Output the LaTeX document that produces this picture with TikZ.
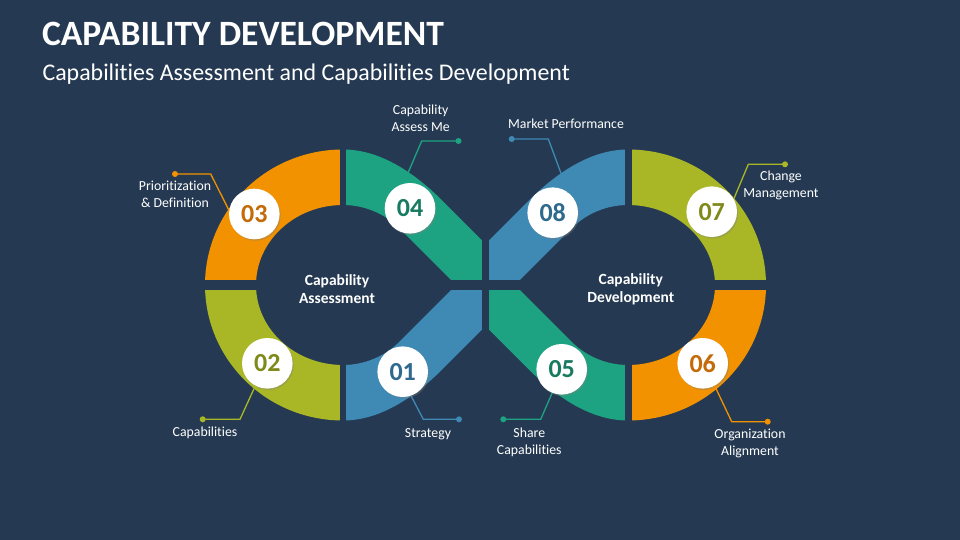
\documentclass[tikz,border=0pt]{standalone}
\usepackage{fontspec}
\setmainfont[Ligatures=NoCommon]{Carlito}
\usetikzlibrary{shadows}

\definecolor{bgnavy}{RGB}{37,58,82}
\definecolor{segorange}{RGB}{243,146,0}
\definecolor{segteal}{RGB}{30,163,130}
\definecolor{segblue}{RGB}{63,137,181}
\definecolor{segolive}{RGB}{169,183,38}
\definecolor{numorange}{RGB}{196,106,8}
\definecolor{numteal}{RGB}{23,122,97}
\definecolor{numblue}{RGB}{47,106,142}
\definecolor{numolive}{RGB}{127,138,26}

% one quarter of a ring and one quarter of the crossing band
\newcommand{\ringquarter}{(-138,0) arc[start angle=180,end angle=90,x radius=138,y radius=135.5] -- (0,80) arc[start angle=90,end angle=180,x radius=87,y radius=80] -- cycle}
\newcommand{\bandquarter}{(0,135.5) .. controls (40,135.5) and (75,108.7) .. (100,83.7) -- (142.5,41.2) -- (142.5,0) -- (113.1,0) -- (56.57,56.57) arc[start angle=45,end angle=90,radius=80] -- cycle}

\begin{document}
\begin{tikzpicture}[x=1pt,y=1pt,
  gapline/.style={bgnavy, line cap=butt},
  link/.style={line width=1.3pt},
  badge/.style={circle, fill=white, minimum size=50.6pt, inner sep=0pt,
    font=\fontsize{26}{26}\selectfont\bfseries,
    drop shadow={opacity=0.35, shadow xshift=1.2pt, shadow yshift=-1.5pt}},
  lbl/.style={text=white, align=center, font=\fontsize{13.8}{17}\selectfont},
  hub/.style={text=white, align=center, font=\fontsize{15.5}{18}\selectfont\bfseries}]

\useasboundingbox (0,0) rectangle (960,540);
\fill[bgnavy] (0,0) rectangle (960,540);

\node[anchor=base west, text=white, font=\fontsize{35.6}{36}\selectfont\bfseries] (title) at (38.5,494) {CAPABILITY DEVELOPMENT};
\node[anchor=base west, text=white, font=\fontsize{23.9}{24}\selectfont] (subtitle) at (39,459) {Capabilities Assessment and Capabilities Development};

\begin{scope}[shift={(343,255)}]
\fill[segorange] \ringquarter;
\fill[segolive, yscale=-1] \ringquarter;
\fill[segteal] \bandquarter;
\fill[segblue, yscale=-1] \bandquarter;
\end{scope}
\begin{scope}[shift={(628,255)}, xscale=-1]
\fill[segolive] \ringquarter;
\fill[segorange, yscale=-1] \ringquarter;
\fill[segblue] \bandquarter;
\fill[segteal, yscale=-1] \bandquarter;
\end{scope}

\draw[gapline, line width=10pt] (190,255) -- (780,255);
\draw[gapline, line width=6pt] (343,112) -- (343,398);
\draw[gapline, line width=7pt] (485.5,190) -- (485.5,320);
\draw[gapline, line width=7pt] (628,112) -- (628,398);

\node[hub] (hubA) at (337,251) {Capability\\Assessment};
\node[hub] (hubD) at (630.7,251) {Capability\\Development};

\foreach \n/\x/\y in {03/254.3/326, 04/410/331.7, 02/267.3/176.7, 01/402.7/168.3,
  08/552.7/327.3, 07/711.7/328.3, 05/561.7/170.7, 06/702.7/176.7}
  \coordinate (c\n) at (\x,\y);

\coordinate (d03) at (175,366);     \coordinate (k03) at (210.7,366);
\coordinate (d04) at (458.5,399);   \coordinate (k04) at (421.7,399);
\coordinate (d08) at (511.7,401);   \coordinate (k08) at (548.3,401);
\coordinate (d07) at (785,375.7);   \coordinate (k07) at (748.3,375.7);
\coordinate (d02) at (202.7,120.7); \coordinate (k02) at (240,120.7);
\coordinate (d01) at (459,120.7);   \coordinate (k01) at (423.3,120.7);
\coordinate (d05) at (503.3,120.7); \coordinate (k05) at (540.7,120.7);
\coordinate (d06) at (767.7,118.3); \coordinate (k06) at (731.7,118.3);

\foreach \n/\c in {03/numorange, 04/numteal, 02/numolive, 01/numblue,
  08/numblue, 07/numolive, 05/numteal, 06/numorange}
  \node[badge, text=\c] (b\n) at (c\n) {\n};

\foreach \n/\c/\a in {03/segorange/172, 04/segteal/105, 08/segblue/53, 07/segolive/30,
  02/segolive/242, 01/segblue/289, 05/segteal/248, 06/segorange/298} {
  \draw[link, \c] (d\n) -- (k\n) -- (b\n.\a);
  \fill[\c] (d\n) circle (3);
}

\node[lbl] (t03) at (175,345.5) {Prioritization\\\& Definition};
\node[lbl] (t04) at (420.7,421.7) {Capability\\Assess Me};
\node[lbl] (t08) at (566,416) {Market Performance};
\node[lbl] (t07) at (781,355) {Change\\Management};
\node[lbl] (t02) at (205,107) {Capabilities};
\node[lbl] (t01) at (428,106) {Strategy};
\node[lbl] (t05) at (529.3,98) {Share\\Capabilities};
\node[lbl] (t06) at (750,96.5) {Organization\\Alignment};
\end{tikzpicture}
\end{document}
